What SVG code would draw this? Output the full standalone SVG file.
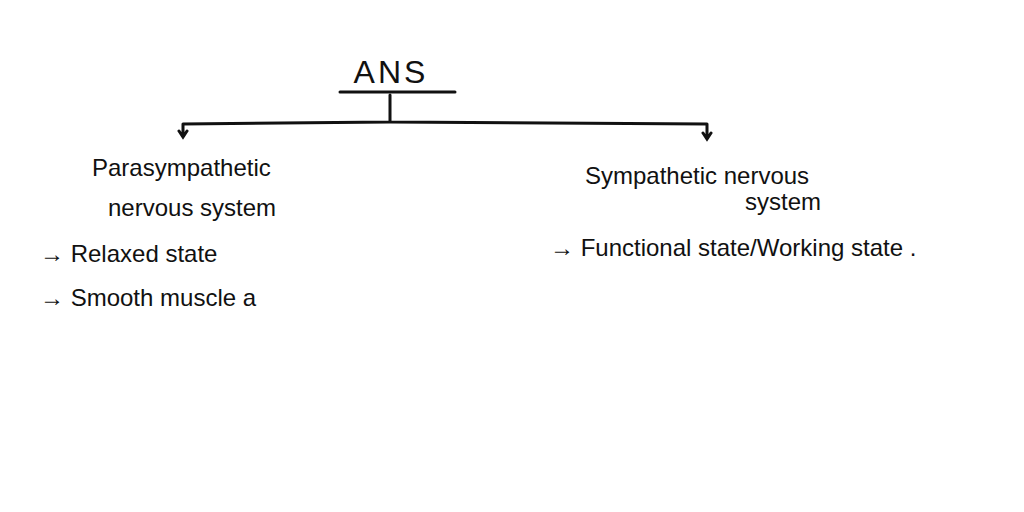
<svg xmlns="http://www.w3.org/2000/svg" width="1024" height="512" viewBox="0 0 1024 512">
<style>
text{font-family:"Liberation Sans",Arial,sans-serif;fill:#111;}
.t{font-size:24px;}
.ln{stroke:#111;stroke-width:3;fill:none;stroke-linecap:round;}
</style>
<rect width="1024" height="512" fill="#fff"/>
<g id="ans"><text x="391" y="83" font-size="32" text-anchor="middle" letter-spacing="3">ANS</text>
<line class="ln" x1="340" y1="92" x2="455" y2="92"/></g>
<g id="connectors">
<path class="ln" d="M390 95 V122 M183 124 L390 122 L707 124 M183 124 V136 M179 131 L183 137 L187 131 M707 124 V138 M703 133 L707 139 L711 133"/>
</g>
<g id="para">
<text class="t" x="92" y="176">Parasympathetic</text>
<text class="t" x="108" y="216">nervous system</text>
<text class="t" x="40" y="262">→ Relaxed state</text>
<text class="t" x="40" y="306">→ Smooth muscle a</text>
</g>
<g id="symp">
<text class="t" x="585" y="184">Sympathetic nervous</text>
<text class="t" x="745" y="210">system</text>
<text class="t" x="550" y="256">→ Functional state/Working state .</text>
</g>
</svg>
